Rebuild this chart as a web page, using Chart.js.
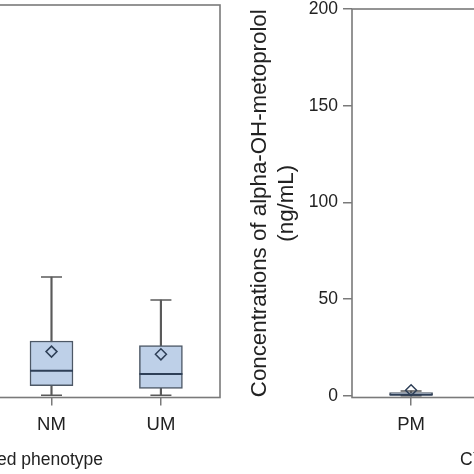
<!DOCTYPE html>
<html lang="en">
<head>
    <meta charset="UTF-8">
    <title>alpha-OH-metoprolol by CYP2D6 phenotype</title>
    <script src="https://cdn.jsdelivr.net/npm/chart.js"></script>
    <style>
        body {
            margin: 0;
            width: 474px;
            height: 474px;
            overflow: hidden;
            background: #fff;
            position: relative;
            font-family: "Liberation Sans", Arial, sans-serif;
        }
        .panel {
            position: absolute;
            top: 0;
            height: 474px;
        }
        #leftPanel { left: -130px; width: 355px; }
        #rightPanel { left: 240px; width: 460px; }
        .xtitle {
            position: absolute;
            top: 449px;
            font-size: 17.5px;
            line-height: 21px;
            color: #222;
            white-space: nowrap;
        }
    </style>
</head>
<body>
    <div class="panel" id="leftPanel"><canvas id="leftChart"></canvas></div>
    <div class="panel" id="rightPanel"><canvas id="rightChart"></canvas></div>
    <div class="xtitle" style="right:371px; text-align:right;">CYP2D6 predicted phenotype</div>
    <div class="xtitle" style="left:460px;">CYP2D6 predicted phenotype</div>

    <script>
        var categories = ['PM', 'NM', 'UM'];
        var yTicks = [0, 50, 100, 150, 200];

        // left panel (its PM box and y axis are cut off)
        var leftMin = [null, 0.2, 0.2];
        var leftQ1 = [null, 5.2, 3.8];
        var leftMedian = [null, 12.9, 11.2];
        var leftQ3 = [null, 28.3, 25.9];
        var leftMax = [null, 61.4, 49.5];
        var leftMean = [null, 22.8, 21.4];

        // right panel, alpha-OH-metoprolol (only PM visible)
        var rightMin = [0, null, null];
        var rightQ1 = [0, null, null];
        var rightMedian = [0.5, null, null];
        var rightQ3 = [1.55, null, null];
        var rightMax = [2.4, null, null];
        var rightMean = [2.85, null, null];

        var boxFill = '#bed0e8';
        var boxLine = '#4d5866';
        var darkLine = '#2e3f57';
        var whiskerColor = '#5a5a5a';
        var axisColor = '#7a7a7a';
        var textColor = '#222';

        function pts(arr) {
            return categories.map(function(c, i) { return {x: i + 1, y: arr[i]}; });
        }

        function boxDatasets(mins, q1, med, q3, maxs, mean) {
            return [
                {
                    type: 'scatter', order: 0,
                    data: pts(mean),
                    pointStyle: 'rectRot', pointRadius: 5.5,
                    pointBackgroundColor: 'rgba(0,0,0,0)',
                    pointBorderColor: darkLine, pointBorderWidth: 1.5
                },
                {
                    type: 'scatter', order: 1,
                    data: pts(med),
                    pointStyle: 'line', pointRadius: 21.5,
                    pointBorderColor: darkLine, pointBorderWidth: 2
                },
                {
                    type: 'bar', order: 2, grouped: false,
                    data: categories.map(function(c, i) {
                        return {x: i + 1, y: q1[i] === null ? null : [q1[i], q3[i]]};
                    }),
                    barThickness: 43,
                    backgroundColor: boxFill,
                    borderColor: boxLine, borderWidth: 1.5, borderSkipped: false
                },
                {
                    type: 'scatter', order: 3,
                    data: pts(maxs).concat(pts(mins)),
                    pointStyle: 'line', pointRadius: 10.5,
                    pointBorderColor: whiskerColor, pointBorderWidth: 1.5
                },
                {
                    type: 'bar', order: 4, grouped: false,
                    data: categories.map(function(c, i) {
                        return {x: i + 1, y: mins[i] === null ? null : [mins[i], maxs[i]]};
                    }),
                    barThickness: 1.5,
                    backgroundColor: whiskerColor, borderWidth: 0
                }
            ];
        }

        var framePlugin = {
            id: 'frame',
            beforeDatasetsDraw: function(chart) {
                var a = chart.chartArea, ctx = chart.ctx;
                ctx.save();
                ctx.strokeStyle = axisColor;
                ctx.lineWidth = 1.6;
                ctx.strokeRect(a.left, a.top, a.right - a.left, a.bottom - a.top);
                ctx.restore();
            }
        };

        function xScale() {
            return {
                type: 'linear',
                min: 0.46,
                max: 3.54,
                offset: false,
                afterBuildTicks: function(s) {
                    s.ticks = categories.map(function(c, i) { return {value: i + 1}; });
                },
                afterFit: function(s) { s.height = 76.5; },
                border: { display: false },
                grid: { offset: false, drawOnChartArea: false, tickLength: 8, color: axisColor, lineWidth: 1.5 },
                ticks: {
                    padding: 8,
                    color: textColor,
                    font: { family: 'Liberation Sans', size: 18.5 },
                    callback: function(v) { return categories[v - 1]; }
                }
            };
        }

        var common = {
            responsive: true,
            maintainAspectRatio: false,
            animation: false,
            plugins: { legend: { display: false }, tooltip: { enabled: false } }
        };

        new Chart(document.getElementById('leftChart'), {
            type: 'bar',
            data: { datasets: boxDatasets(leftMin, leftQ1, leftMedian, leftQ3, leftMax, leftMean) },
            options: Object.assign({}, common, {
                layout: { autoPadding: false, padding: { left: 13, right: 5, top: 5, bottom: 0 } },
                scales: {
                    x: xScale(),
                    y: { display: false, min: -0.93, max: 202.07 }
                }
            }),
            plugins: [framePlugin]
        });

        new Chart(document.getElementById('rightChart'), {
            type: 'bar',
            data: { datasets: boxDatasets(rightMin, rightQ1, rightMedian, rightQ3, rightMax, rightMean) },
            options: Object.assign({}, common, {
                layout: { autoPadding: false, padding: { left: 0, right: 11, top: 9, bottom: 0 } },
                scales: {
                    x: xScale(),
                    y: {
                        min: -0.93,
                        max: 200,
                        afterBuildTicks: function(s) {
                            s.ticks = yTicks.map(function(v) { return {value: v}; });
                        },
                        afterFit: function(s) {
                            s.width = 112;
                            s.paddingTop = 0;
                            s.paddingBottom = 0;
                        },
                        border: { display: false },
                        grid: { drawOnChartArea: false, tickLength: 9, color: axisColor, lineWidth: 1.5 },
                        ticks: {
                            padding: 5,
                            color: textColor,
                            font: { family: 'Liberation Sans', size: 17.5 }
                        },
                        title: {
                            display: true,
                            text: ['Concentrations of alpha-OH-metoprolol', '(ng/mL)'],
                            color: textColor,
                            font: { family: 'Liberation Sans', size: 22.3, lineHeight: 1.2 },
                            padding: { top: 6.6, bottom: 0 }
                        }
                    }
                }
            }),
            plugins: [framePlugin]
        });
    </script>
</body>
</html>
